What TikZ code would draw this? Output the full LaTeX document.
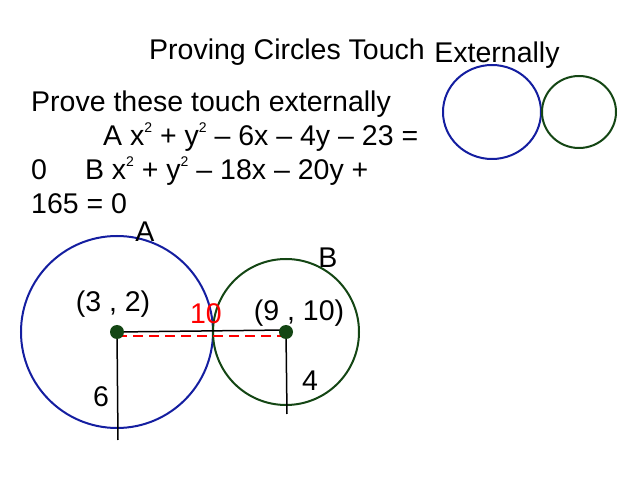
\documentclass[tikz,border=0pt]{standalone}
\usepackage{fontspec}
\setmainfont{Liberation Sans}
\definecolor{cblue}{RGB}{20,30,160}
\definecolor{cgreen}{RGB}{20,70,20}
\newcommand{\sq}{\raisebox{0.45em}{\fontsize{14}{14}\selectfont 2}}
\begin{document}
\begin{tikzpicture}[x=1pt,y=-1pt,
  txt/.style={inner sep=0pt,font=\fontsize{28.5}{32}\selectfont},
  blueline/.style={draw=cblue,line width=2pt},
  greenline/.style={draw=cgreen,line width=2pt}]
\useasboundingbox[fill=white] (0,0) rectangle (638,478);
\node[txt] (t1) at (287,52) {Proving Circles Touch};
\node[txt] (t2) at (497,55) {Externally};
\node[txt,anchor=west] (l1) at (31,104) {Prove these touch externally};
\node[txt,anchor=west] (l2) at (103,137) {A x\sq{} + y\sq{} – 6x – 4y – 23 =};
\node[txt,anchor=west] (l3) at (31,171) {0\hspace{38pt}B x\sq{} + y\sq{} – 18x – 20y +};
\node[txt,anchor=west] (l4) at (31,204) {165 = 0};
\draw[blueline] (492,112) ellipse [x radius=49, y radius=47];
\draw[greenline] (579,112) ellipse [x radius=37, y radius=36];
\coordinate (ca) at (117,332);
\coordinate (cb) at (286,332);
\draw[blueline] (ca) circle [radius=96];
\draw[greenline] (cb) circle [radius=73];
\draw[red,line width=2.5pt,dash pattern=on 10pt off 6pt] (117,336) -- (286,336);
\draw[black,line width=1.5pt] (ca) -- (286,330);
\coordinate (ea) at (118,440);
\coordinate (eb) at (287,414);
\draw[black,line width=1.5pt] (ca) -- (ea);
\draw[black,line width=1.5pt] (cb) -- (eb);
\fill[cgreen] (ca) circle [radius=7];
\fill[cgreen] (cb) circle [radius=7];
\node[txt] (la) at (145,232) {A};
\node[txt] (lb) at (328,258) {B};
\node[txt] (pa) at (113,304) {(3 , 2)};
\node[txt,text=red] (d) at (206,314) {10};
\node[txt] (pb) at (299,313) {(9 , 10)};
\node[txt] (r6) at (101,397) {6};
\node[txt] (r4) at (310,381) {4};
\end{tikzpicture}
\end{document}
